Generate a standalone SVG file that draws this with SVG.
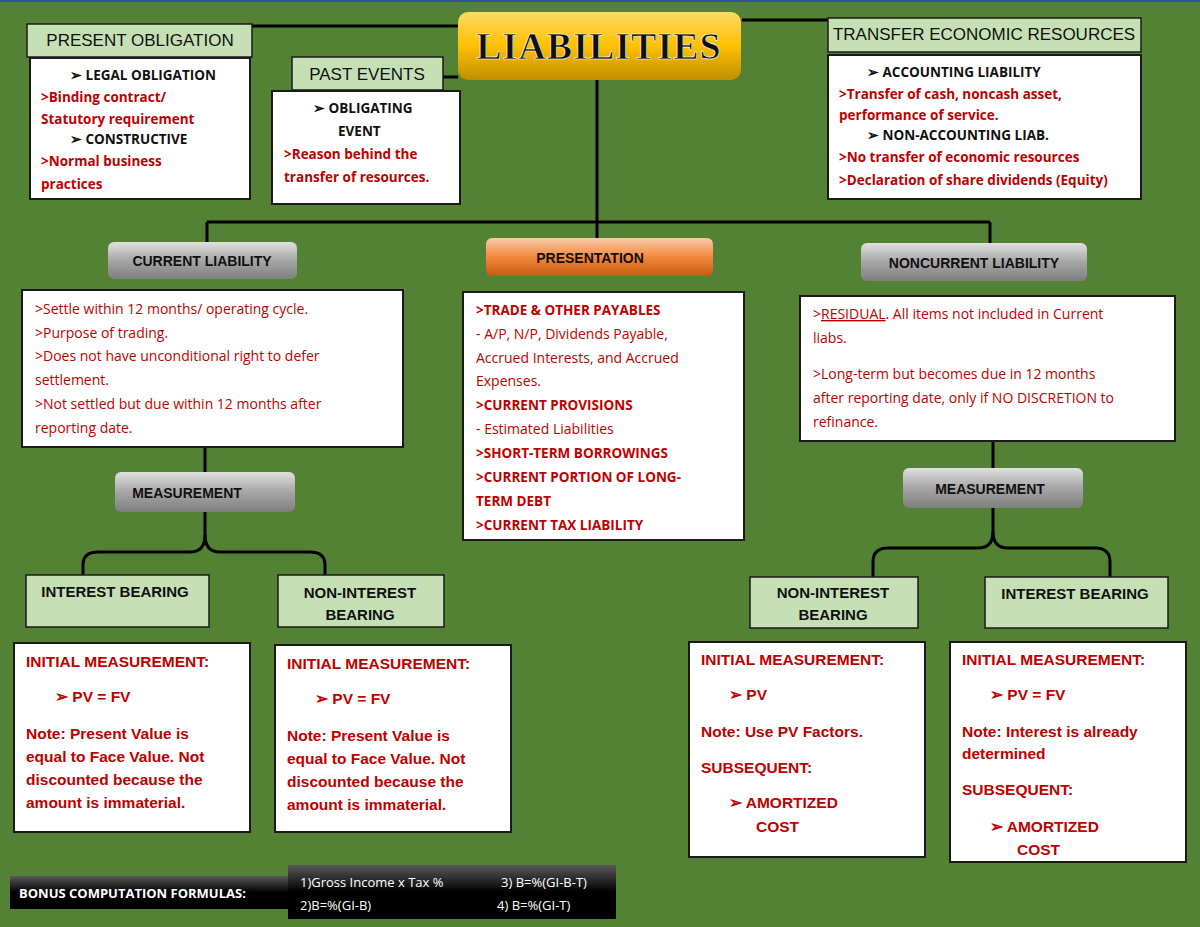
<svg xmlns="http://www.w3.org/2000/svg" width="1200" height="927" viewBox="0 0 1200 927">
<defs>
<linearGradient id="gold" x1="0" y1="0" x2="0" y2="1"><stop offset="0" stop-color="#ffd966"/><stop offset="0.5" stop-color="#ffc000"/><stop offset="1" stop-color="#bf8f00"/></linearGradient>
<linearGradient id="gray" x1="0" y1="0" x2="0" y2="1"><stop offset="0" stop-color="#e0e0e0"/><stop offset="0.5" stop-color="#a6a6a6"/><stop offset="1" stop-color="#7f7f7f"/></linearGradient>
<linearGradient id="orange" x1="0" y1="0" x2="0" y2="1"><stop offset="0" stop-color="#f8cbad"/><stop offset="0.5" stop-color="#f4883c"/><stop offset="1" stop-color="#c55a11"/></linearGradient>
<linearGradient id="blk" x1="0" y1="0" x2="0" y2="1"><stop offset="0" stop-color="#595959"/><stop offset="0.5" stop-color="#000"/><stop offset="1" stop-color="#000"/></linearGradient>
</defs>
<style>
.hdr{fill:#c5e0b4;stroke:#1a1a1a;stroke-width:1.5}
.body{fill:#fff;stroke:#1a1a1a;stroke-width:2}
.ht{font-family:"Liberation Sans",Arial,sans-serif;font-size:17px;fill:#111;text-anchor:middle}
.bt{font-family:"Open Sans","Liberation Sans",sans-serif;font-weight:bold;font-size:13.5px;fill:#111}
.rt{font-family:"Open Sans","Liberation Sans",sans-serif;font-weight:bold;font-size:13.5px;fill:#c00000}
.rn{font-family:"Open Sans","Liberation Sans",sans-serif;font-size:14px;fill:#c00000}
.pill{font-family:"Liberation Sans",Arial,sans-serif;font-weight:bold;font-size:14px;fill:#111;text-anchor:middle}
.it{font-family:"Liberation Sans",Arial,sans-serif;font-weight:bold;font-size:15px;fill:#111;text-anchor:middle}
.im{font-family:"Liberation Sans",Arial,sans-serif;font-weight:bold;font-size:15.5px;fill:#c00000}
.wt{font-family:"Open Sans","Liberation Sans",sans-serif;font-size:13px;fill:#fff}
.conn{fill:none;stroke:#000;stroke-width:3}
</style>
<rect width="1200" height="927" fill="#548235"/>
<rect width="1200" height="2" fill="#2f5597"/>
<g id="connectors" class="conn">
<path d="M193 26H458"/><path d="M742 20H828"/><path d="M443 77H458"/>
<path d="M597 80V222"/><path d="M207 222H990"/><path d="M207 222V242"/><path d="M990 222V243"/><path d="M597 222V238"/>
<path d="M205 447V472"/><path d="M993 441V468"/>
<path d="M205 512V535Q205 552 190 552H98Q83 552 83 565V575"/><path d="M205 535Q205 552 220 552H310Q325 552 325 565V575"/>
<path d="M993 508V532Q993 548 978 548H888Q873 548 873 562V577"/><path d="M993 532Q993 548 1008 548H1095Q1110 548 1110 562V577"/>
</g>
<g id="liabilities"><rect x="458" y="12" width="283" height="68" rx="10" fill="url(#gold)"/><text x="599" y="59" text-anchor="middle" font-family="Liberation Serif,serif" font-weight="bold" font-size="38" fill="#111" stroke="#fff" stroke-width="0.6" letter-spacing="1">LIABILITIES</text></g>
<g id="present-obligation">
<rect class="hdr" x="27" y="24" width="225" height="33"/><text class="ht" x="140" y="46">PRESENT OBLIGATION</text>
<rect class="body" x="30" y="58" width="220" height="141"/>
<text class="bt" x="70" y="80">➢   LEGAL OBLIGATION</text>
<text class="rt" x="41" y="102">&gt;Binding contract/</text>
<text class="rt" x="41" y="124">Statutory requirement</text>
<text class="bt" x="70" y="144">➢   CONSTRUCTIVE</text>
<text class="rt" x="41" y="166">&gt;Normal business</text>
<text class="rt" x="41" y="189">practices</text>
</g>
<g id="past-events">
<rect class="hdr" x="292" y="57" width="151" height="33"/><text class="ht" x="367" y="80">PAST EVENTS</text>
<rect class="body" x="272" y="91" width="188" height="113"/>
<text class="bt" x="313" y="113">➢   OBLIGATING</text>
<text class="bt" x="338" y="136">EVENT</text>
<text class="rt" x="284" y="159">&gt;Reason behind the</text>
<text class="rt" x="284" y="182">transfer of resources.</text>
</g>
<g id="transfer">
<rect class="hdr" x="828" y="18" width="313" height="34"/><text class="ht" x="984" y="40">TRANSFER ECONOMIC RESOURCES</text>
<rect class="body" x="828" y="55" width="313" height="144"/>
<text class="bt" x="867" y="77">➢   ACCOUNTING LIABILITY</text>
<text class="rt" x="839" y="99">&gt;Transfer of cash, noncash asset,</text>
<text class="rt" x="839" y="120">performance of service.</text>
<text class="bt" x="867" y="140">➢   NON-ACCOUNTING LIAB.</text>
<text class="rt" x="839" y="162">&gt;No transfer of economic resources</text>
<text class="rt" x="839" y="185">&gt;Declaration of share dividends (Equity)</text>
</g>
<g id="current-liability">
<rect x="108" y="242" width="189" height="37" rx="6" fill="url(#gray)"/><text class="pill" x="202" y="266">CURRENT LIABILITY</text>
<rect class="body" x="22" y="290" width="381" height="157"/>
<text class="rn" x="35" y="314">&gt;Settle within 12 months/ operating cycle.</text>
<text class="rn" x="35" y="338">&gt;Purpose of trading.</text>
<text class="rn" x="35" y="361">&gt;Does not have unconditional right to defer</text>
<text class="rn" x="35" y="385">settlement.</text>
<text class="rn" x="35" y="409">&gt;Not settled but due within 12 months after</text>
<text class="rn" x="35" y="433">reporting date.</text>
</g>
<g id="presentation">
<rect x="486" y="238" width="227" height="38" rx="6" fill="url(#orange)"/><text class="pill" x="590" y="263">PRESENTATION</text>
<rect class="body" x="463" y="292" width="281" height="248"/>
<text class="rt" x="476" y="315">&gt;TRADE &amp; OTHER PAYABLES</text>
<text class="rn" x="476" y="339">- A/P, N/P, Dividends Payable,</text>
<text class="rn" x="476" y="363">Accrued Interests, and Accrued</text>
<text class="rn" x="476" y="386">Expenses.</text>
<text class="rt" x="476" y="410">&gt;CURRENT PROVISIONS</text>
<text class="rn" x="476" y="434">- Estimated Liabilities</text>
<text class="rt" x="476" y="458">&gt;SHORT-TERM BORROWINGS</text>
<text class="rt" x="476" y="482">&gt;CURRENT PORTION OF LONG-</text>
<text class="rt" x="476" y="506">TERM DEBT</text>
<text class="rt" x="476" y="530">&gt;CURRENT TAX LIABILITY</text>
</g>
<g id="noncurrent-liability">
<rect x="861" y="243" width="226" height="38" rx="6" fill="url(#gray)"/><text class="pill" x="974" y="268">NONCURRENT LIABILITY</text>
<rect class="body" x="800" y="296" width="375" height="145"/>
<text class="rn" x="813" y="319">&gt;<tspan text-decoration="underline">RESIDUAL</tspan>. All items not included in Current</text>
<text class="rn" x="813" y="343">liabs.</text>
<text class="rn" x="813" y="379">&gt;Long-term but becomes due in 12 months</text>
<text class="rn" x="813" y="403">after reporting date, only if NO DISCRETION to</text>
<text class="rn" x="813" y="427">refinance.</text>
</g>
<g id="measurement-left"><rect x="115" y="472" width="180" height="40" rx="6" fill="url(#gray)"/><text class="pill" x="187" y="498">MEASUREMENT</text></g>
<g id="measurement-right"><rect x="903" y="468" width="180" height="40" rx="6" fill="url(#gray)"/><text class="pill" x="990" y="494">MEASUREMENT</text></g>
<g id="interest-bearing-left"><rect class="hdr" x="26" y="575" width="183" height="52"/><text class="it" x="115" y="597">INTEREST BEARING</text></g>
<g id="non-interest-left"><rect class="hdr" x="278" y="575" width="166" height="52"/><text class="it" x="360" y="598">NON-INTEREST</text><text class="it" x="360" y="620">BEARING</text></g>
<g id="non-interest-right"><rect class="hdr" x="750" y="577" width="168" height="51"/><text class="it" x="833" y="598">NON-INTEREST</text><text class="it" x="833" y="620">BEARING</text></g>
<g id="interest-bearing-right"><rect class="hdr" x="985" y="577" width="183" height="51"/><text class="it" x="1075" y="599">INTEREST BEARING</text></g>
<g id="initial-1"><rect class="body" x="14" y="643" width="236" height="189"/>
<text class="im" x="26" y="667">INITIAL MEASUREMENT:</text><text class="im" x="55" y="702">➢  PV = FV</text>
<text class="im" x="26" y="739">Note: Present Value is</text><text class="im" x="26" y="762">equal to Face Value. Not</text><text class="im" x="26" y="785">discounted because the</text><text class="im" x="26" y="808">amount is immaterial.</text></g>
<g id="initial-2"><rect class="body" x="275" y="645" width="236" height="187"/>
<text class="im" x="287" y="669">INITIAL MEASUREMENT:</text><text class="im" x="315" y="704">➢  PV = FV</text>
<text class="im" x="287" y="741">Note: Present Value is</text><text class="im" x="287" y="764">equal to Face Value. Not</text><text class="im" x="287" y="787">discounted because the</text><text class="im" x="287" y="810">amount is immaterial.</text></g>
<g id="initial-3"><rect class="body" x="689" y="642" width="236" height="215"/>
<text class="im" x="701" y="665">INITIAL MEASUREMENT:</text><text class="im" x="729" y="700">➢  PV</text>
<text class="im" x="701" y="737">Note: Use PV Factors.</text><text class="im" x="701" y="773">SUBSEQUENT:</text>
<text class="im" x="729" y="808">➢  AMORTIZED</text><text class="im" x="756" y="832">COST</text></g>
<g id="initial-4"><rect class="body" x="950" y="642" width="236" height="220"/>
<text class="im" x="962" y="665">INITIAL MEASUREMENT:</text><text class="im" x="990" y="700">➢  PV = FV</text>
<text class="im" x="962" y="737">Note: Interest is already</text><text class="im" x="962" y="759">determined</text><text class="im" x="962" y="795">SUBSEQUENT:</text>
<text class="im" x="990" y="832">➢  AMORTIZED</text><text class="im" x="1017" y="855">COST</text></g>
<g id="bonus">
<rect x="10" y="876" width="278" height="33" fill="url(#blk)"/>
<text x="19" y="898" font-family="Open Sans,Liberation Sans,sans-serif" font-weight="bold" font-size="13" fill="#fff">BONUS COMPUTATION FORMULAS:</text>
<rect x="288" y="865" width="328" height="54" fill="url(#blk)"/>
<text class="wt" x="300" y="887">1)Gross Income x Tax %</text><text class="wt" x="501" y="887">3) B=%(GI-B-T)</text>
<text class="wt" x="300" y="910">2)B=%(GI-B)</text><text class="wt" x="497" y="910">4) B=%(GI-T)</text>
</g>
</svg>
